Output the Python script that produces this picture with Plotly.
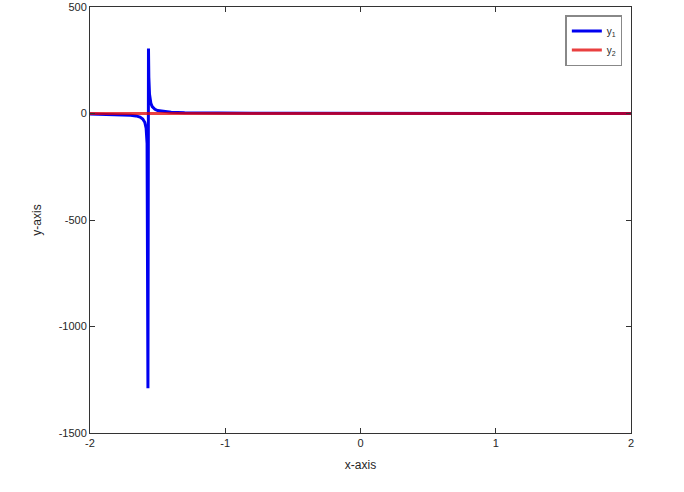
import plotly.graph_objects as go

# y1 values (spike near x = -1.57)
x1 = [-2.0, -1.9, -1.8, -1.75, -1.7, -1.66, -1.63, -1.61, -1.595, -1.585, -1.578,
      -1.5716, -1.5676, -1.565, -1.56, -1.55, -1.54, -1.52, -1.5, -1.45, -1.4,
      -1.3, -1.2, -1.0, -0.8, -0.5, 0.0, 0.5, 1.0, 1.5, 2.0]
y1 = [-2.3, -3.0, -4.4, -5.6, -7.8, -11.2, -16.8, -26, -41, -69, -140,
      -1290, 305, 170, 90, 48, 32, 20, 14, 8.2, 5.8,
      3.7, 2.7, 1.8, 1.3, 0.93, 0.64, 0.48, 0.39, 0.33, 0.28]

x2 = [-2.0, 2.0]
y2 = [0.0, 0.0]

xticks = [-2, -1, 0, 1, 2]
yticks = [500, 0, -500, -1000, -1500]

fig = go.Figure()
fig.add_trace(go.Scatter(x=x1, y=y1, mode="lines", name="y<sub>1</sub>",
                         line=dict(color="#0000f0", width=3)))
fig.add_trace(go.Scatter(x=x2, y=y2, mode="lines", name="y<sub>2</sub>",
                         line=dict(color="rgba(225,0,0,0.75)", width=3)))

axis_common = dict(showline=True, linecolor="#333333", linewidth=1, mirror="ticks",
                   ticks="inside", ticklen=5, tickcolor="#333333", showgrid=False,
                   zeroline=False, automargin=False,
                   tickfont=dict(size=11, color="#262626"))

fig.update_layout(
    width=684, height=492,
    margin=dict(l=90, r=53, t=7, b=59),
    paper_bgcolor="white", plot_bgcolor="white",
    font=dict(family="Liberation Sans, Arial, sans-serif", color="#262626"),
    xaxis=dict(range=[-2, 2], tickvals=xticks, ticktext=[str(v) for v in xticks],
               title=dict(text="x-axis", font=dict(size=12), standoff=12), **axis_common),
    yaxis=dict(range=[-1500, 500], tickvals=yticks, ticktext=[str(v) for v in yticks],
               title=dict(text="y-axis", font=dict(size=12), standoff=14), **axis_common),
    legend=dict(x=0.984, y=0.981, xanchor="right", yanchor="top",
                bordercolor="#888888", borderwidth=1.5, bgcolor="white",
                font=dict(size=10), tracegroupgap=0, itemwidth=30),
    showlegend=True,
)

fig.write_html("out.html", config={"displayModeBar": False},
               post_script="document.body.style.margin='0';document.body.style.overflow='hidden';")
